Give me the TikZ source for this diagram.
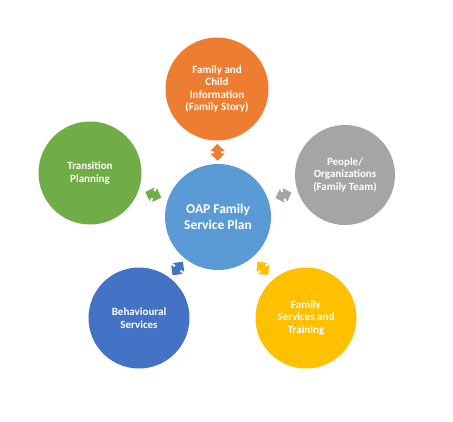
\documentclass[tikz,border=0pt]{standalone}
\usepackage{fontspec}
\setmainfont{Carlito}
\usetikzlibrary{shapes.arrows}
\definecolor{cOrange}{HTML}{ED7D31}
\definecolor{cGray}{HTML}{A5A5A5}
\definecolor{cYellow}{HTML}{FFC000}
\definecolor{cBlue}{HTML}{4472C4}
\definecolor{cGreen}{HTML}{70AD47}
\definecolor{cCenter}{HTML}{5B9BD5}
\tikzset{
  bubble/.style={circle, minimum size=103pt, inner sep=0pt, text=white,
    font=\bfseries\fontsize{11}{12.5}\selectfont, align=center},
  link/.style={double arrow, draw=none, fill=#1, minimum height=17pt,
    inner sep=3.3pt, double arrow head extend=3.8pt, sloped}
}
\begin{document}
\begin{tikzpicture}[x=1pt,y=-1pt]
\useasboundingbox (0,0) rectangle (453,421);
\fill[white] (0,0) rectangle (453,421);
\node[bubble, fill=cCenter, minimum size=106pt, font=\bfseries\fontsize{13.5}{16}\selectfont] (c) at (218,217) {OAP Family\\Service Plan};
\node[bubble, fill=cOrange] (t) at (217,89) {Family and\\Child\\Information\\(Family Story)};
\node[bubble, fill=cGray, minimum size=100pt] (r) at (345,175) {People/\\Organizations\\(Family Team)};
\node[bubble, fill=cYellow, minimum size=101pt] (br) at (306,318) {Family\\Services and\\Training};
\node[bubble, fill=cBlue, minimum size=101pt] (bl) at (139,318) {Behavioural\\Services};
\node[bubble, fill=cGreen] (l) at (90,173) {Transition\\Planning};
\path (c) -- node[link=cOrange] (a1) {} (t);
\path (c) -- node[link=cGray, pos=0.52] (a2) {} (r);
\path (c) -- node[link=cYellow] (a3) {} (br);
\path (c) -- node[link=cBlue] (a4) {} (bl);
\path (c) -- node[link=cGreen] (a5) {} (l);
\end{tikzpicture}
\end{document}
